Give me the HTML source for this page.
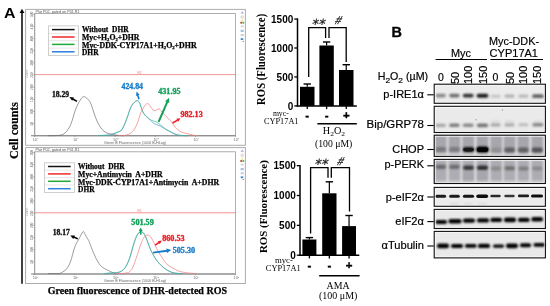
<!DOCTYPE html>
<html><head><meta charset="utf-8"><title>Figure</title>
<style>html,body{margin:0;padding:0;background:#fff;} svg{display:block;filter:blur(0.3px);}</style></head>
<body><svg width="550" height="306" viewBox="0 0 550 306">
<defs>
<filter id="bl" x="-30%" y="-150%" width="160%" height="400%"><feGaussianBlur stdDeviation="0.55"/></filter>
<filter id="bl3" x="-30%" y="-150%" width="160%" height="400%"><feGaussianBlur stdDeviation="0.9"/></filter>
<filter id="bl2" x="-30%" y="-10%" width="160%" height="120%"><feGaussianBlur stdDeviation="1.2"/></filter>
</defs>
<rect width="550" height="306" fill="#fff"/>
<rect x="25.6" y="9.4" width="219.8" height="135.9" fill="#fff" stroke="#acacac" stroke-width="1"/>
<rect x="34.7" y="13.6" width="200.89999999999998" height="122.20000000000002" fill="#fff" stroke="#9a9a9a" stroke-width="0.8"/>
<text x="35.6" y="12.6" font-size="3.4" font-family="'Liberation Sans',Arial,sans-serif" font-weight="normal" fill="#555" text-anchor="start" textLength="44" lengthAdjust="spacingAndGlyphs" >Plot P02, gated on P01.R1</text>
<line x1="33.300000000000004" y1="135.8" x2="34.7" y2="135.8" stroke="#777" stroke-width="0.7" />
<line x1="33.300000000000004" y1="123.65" x2="34.7" y2="123.65" stroke="#777" stroke-width="0.7" />
<text x="33.3" y="123.65" font-size="3.2" font-family="'Liberation Sans',Arial,sans-serif" font-weight="normal" fill="#707070" text-anchor="middle" transform="rotate(-90 33.3 123.65)" >50</text>
<line x1="33.300000000000004" y1="111.50000000000001" x2="34.7" y2="111.50000000000001" stroke="#777" stroke-width="0.7" />
<text x="33.3" y="111.50000000000001" font-size="3.2" font-family="'Liberation Sans',Arial,sans-serif" font-weight="normal" fill="#707070" text-anchor="middle" transform="rotate(-90 33.3 111.50000000000001)" >100</text>
<line x1="33.300000000000004" y1="99.35000000000001" x2="34.7" y2="99.35000000000001" stroke="#777" stroke-width="0.7" />
<text x="33.3" y="99.35000000000001" font-size="3.2" font-family="'Liberation Sans',Arial,sans-serif" font-weight="normal" fill="#707070" text-anchor="middle" transform="rotate(-90 33.3 99.35000000000001)" >150</text>
<line x1="33.300000000000004" y1="87.20000000000002" x2="34.7" y2="87.20000000000002" stroke="#777" stroke-width="0.7" />
<text x="33.3" y="87.20000000000002" font-size="3.2" font-family="'Liberation Sans',Arial,sans-serif" font-weight="normal" fill="#707070" text-anchor="middle" transform="rotate(-90 33.3 87.20000000000002)" >200</text>
<line x1="33.300000000000004" y1="75.05000000000001" x2="34.7" y2="75.05000000000001" stroke="#777" stroke-width="0.7" />
<text x="33.3" y="75.05000000000001" font-size="3.2" font-family="'Liberation Sans',Arial,sans-serif" font-weight="normal" fill="#707070" text-anchor="middle" transform="rotate(-90 33.3 75.05000000000001)" >250</text>
<line x1="33.300000000000004" y1="62.900000000000006" x2="34.7" y2="62.900000000000006" stroke="#777" stroke-width="0.7" />
<text x="33.3" y="62.900000000000006" font-size="3.2" font-family="'Liberation Sans',Arial,sans-serif" font-weight="normal" fill="#707070" text-anchor="middle" transform="rotate(-90 33.3 62.900000000000006)" >300</text>
<line x1="33.300000000000004" y1="50.750000000000014" x2="34.7" y2="50.750000000000014" stroke="#777" stroke-width="0.7" />
<text x="33.3" y="50.750000000000014" font-size="3.2" font-family="'Liberation Sans',Arial,sans-serif" font-weight="normal" fill="#707070" text-anchor="middle" transform="rotate(-90 33.3 50.750000000000014)" >350</text>
<line x1="33.300000000000004" y1="38.60000000000001" x2="34.7" y2="38.60000000000001" stroke="#777" stroke-width="0.7" />
<text x="33.3" y="38.60000000000001" font-size="3.2" font-family="'Liberation Sans',Arial,sans-serif" font-weight="normal" fill="#707070" text-anchor="middle" transform="rotate(-90 33.3 38.60000000000001)" >400</text>
<line x1="33.300000000000004" y1="26.450000000000003" x2="34.7" y2="26.450000000000003" stroke="#777" stroke-width="0.7" />
<text x="33.3" y="26.450000000000003" font-size="3.2" font-family="'Liberation Sans',Arial,sans-serif" font-weight="normal" fill="#707070" text-anchor="middle" transform="rotate(-90 33.3 26.450000000000003)" >450</text>
<line x1="33.300000000000004" y1="14.300000000000011" x2="34.7" y2="14.300000000000011" stroke="#777" stroke-width="0.7" />
<text x="33.3" y="14.300000000000011" font-size="3.2" font-family="'Liberation Sans',Arial,sans-serif" font-weight="normal" fill="#707070" text-anchor="middle" transform="rotate(-90 33.3 14.300000000000011)" >500</text>
<text x="28.2" y="74" font-size="2.8" font-family="'Liberation Sans',Arial,sans-serif" font-weight="normal" fill="#999" text-anchor="middle" transform="rotate(-90 28.2 74)" >Count</text>
<line x1="34.7" y1="135.8" x2="34.7" y2="137.0" stroke="#888" stroke-width="0.6" />
<text x="35.5" y="140.8" font-size="3.8" font-family="'Liberation Sans',Arial,sans-serif" font-weight="normal" fill="#707070" text-anchor="middle" >10<tspan font-size="2.4" dy="-1.4">0</tspan></text>
<line x1="74.88" y1="135.8" x2="74.88" y2="137.0" stroke="#888" stroke-width="0.6" />
<text x="75.67999999999999" y="140.8" font-size="3.8" font-family="'Liberation Sans',Arial,sans-serif" font-weight="normal" fill="#707070" text-anchor="middle" >10<tspan font-size="2.4" dy="-1.4">1</tspan></text>
<line x1="115.06" y1="135.8" x2="115.06" y2="137.0" stroke="#888" stroke-width="0.6" />
<text x="115.86" y="140.8" font-size="3.8" font-family="'Liberation Sans',Arial,sans-serif" font-weight="normal" fill="#707070" text-anchor="middle" >10<tspan font-size="2.4" dy="-1.4">2</tspan></text>
<line x1="155.24" y1="135.8" x2="155.24" y2="137.0" stroke="#888" stroke-width="0.6" />
<text x="156.04000000000002" y="140.8" font-size="3.8" font-family="'Liberation Sans',Arial,sans-serif" font-weight="normal" fill="#707070" text-anchor="middle" >10<tspan font-size="2.4" dy="-1.4">3</tspan></text>
<line x1="195.42000000000002" y1="135.8" x2="195.42000000000002" y2="137.0" stroke="#888" stroke-width="0.6" />
<text x="196.22000000000003" y="140.8" font-size="3.8" font-family="'Liberation Sans',Arial,sans-serif" font-weight="normal" fill="#707070" text-anchor="middle" >10<tspan font-size="2.4" dy="-1.4">4</tspan></text>
<line x1="235.60000000000002" y1="135.8" x2="235.60000000000002" y2="137.0" stroke="#888" stroke-width="0.6" />
<text x="236.40000000000003" y="140.8" font-size="3.8" font-family="'Liberation Sans',Arial,sans-serif" font-weight="normal" fill="#707070" text-anchor="middle" >10<tspan font-size="2.4" dy="-1.4">5</tspan></text>
<text x="135" y="143.8" font-size="3.1" font-family="'Liberation Sans',Arial,sans-serif" font-weight="normal" fill="#666" text-anchor="middle" textLength="62" lengthAdjust="spacingAndGlyphs" >Green B Fluorescence (1006 B-HLog)</text>
<line x1="34.7" y1="74.6" x2="235.6" y2="74.6" stroke="#f07878" stroke-width="0.8" />
<text x="139.5" y="73.6" font-size="3.0" font-family="'Liberation Sans',Arial,sans-serif" font-weight="normal" fill="#f07070" text-anchor="middle" >R2</text>
<path d="M240.6,13.6 L242.2,11.2 L243.8,13.6 Z" fill="#8ea4c4" opacity="0.9"/>
<circle cx="242.2" cy="17.1" r="1.35" fill="#f2f0e6" stroke="#c9c2a8" stroke-width="0.6"/>
<circle cx="242.2" cy="20.8" r="0.8" fill="#e6cf3a"/>
<circle cx="241.2" cy="22.8" r="1.05" fill="#d23a32"/>
<circle cx="243.3" cy="22.8" r="1.05" fill="#46b446"/>
<rect x="240.7" y="25.4" width="3" height="1.8" fill="#d4d4dc"/>
<rect x="240.6" y="29.8" width="3.2" height="2.2" fill="#a6c4e2"/>
<rect x="240.6" y="34.0" width="3.2" height="2.2" fill="#cad2e2"/>
<rect x="240.7" y="38.2" width="2.6" height="1.8" fill="#4a86c6"/>
<circle cx="243.2" cy="41.2" r="0.5" fill="#333"/>
<line x1="31" y1="135.8" x2="235.6" y2="135.8" stroke="#808080" stroke-width="1.1" />
<line x1="34.7" y1="13.6" x2="34.7" y2="135.8" stroke="#9c9c9c" stroke-width="0.8" />
<rect x="48.4" y="25.9" width="30" height="29.6" fill="#fff" stroke="#bbb" stroke-width="0.7"/>
<line x1="48.4" y1="33.3" x2="78.4" y2="33.3" stroke="#ccc" stroke-width="0.5" />
<line x1="48.4" y1="40.7" x2="78.4" y2="40.7" stroke="#ccc" stroke-width="0.5" />
<line x1="48.4" y1="48.1" x2="78.4" y2="48.1" stroke="#ccc" stroke-width="0.5" />
<line x1="52.0" y1="29.599999999999998" x2="74.6" y2="29.599999999999998" stroke="#111" stroke-width="1.5" />
<line x1="52.0" y1="37.0" x2="74.6" y2="37.0" stroke="#ee2a2a" stroke-width="1.5" />
<line x1="52.0" y1="44.4" x2="74.6" y2="44.4" stroke="#20a838" stroke-width="1.5" />
<line x1="52.0" y1="51.8" x2="74.6" y2="51.8" stroke="#2f7fdc" stroke-width="1.5" />
<text x="82.0" y="32.199999999999996" font-size="7.7" font-family="'Liberation Serif','Times New Roman',serif" font-weight="bold" fill="#000" text-anchor="start" textLength="46.6" lengthAdjust="spacingAndGlyphs" stroke="#000" stroke-width="0.25">Without&#160; DHR</text>
<text x="82.0" y="39.849999999999994" font-size="7.7" font-family="'Liberation Serif','Times New Roman',serif" font-weight="bold" fill="#000" text-anchor="start" textLength="57.4" lengthAdjust="spacingAndGlyphs" stroke="#000" stroke-width="0.25">Myc+H<tspan font-size="4.6" dy="1.0">2</tspan><tspan dy="-1.0">O</tspan><tspan font-size="4.6" dy="1.0">2</tspan><tspan dy="-1.0">+DHR</tspan></text>
<text x="82.0" y="48.1" font-size="7.7" font-family="'Liberation Serif','Times New Roman',serif" font-weight="bold" fill="#000" text-anchor="start" textLength="114.6" lengthAdjust="spacingAndGlyphs" stroke="#000" stroke-width="0.25">Myc-DDK-CYP17A1+H<tspan font-size="4.6" dy="1.0">2</tspan><tspan dy="-1.0">O</tspan><tspan font-size="4.6" dy="1.0">2</tspan><tspan dy="-1.0">+DHR</tspan></text>
<text x="82.0" y="55.15" font-size="7.7" font-family="'Liberation Serif','Times New Roman',serif" font-weight="bold" fill="#000" text-anchor="start" textLength="16.5" lengthAdjust="spacingAndGlyphs" stroke="#000" stroke-width="0.25">DHR</text>
<rect x="25.6" y="147.6" width="219.8" height="135.9" fill="#fff" stroke="#acacac" stroke-width="1"/>
<rect x="34.7" y="151.79999999999998" width="200.89999999999998" height="122.20000000000002" fill="#fff" stroke="#9a9a9a" stroke-width="0.8"/>
<text x="35.6" y="150.79999999999998" font-size="3.4" font-family="'Liberation Sans',Arial,sans-serif" font-weight="normal" fill="#555" text-anchor="start" textLength="44" lengthAdjust="spacingAndGlyphs" >Plot P02, gated on P01.R1</text>
<line x1="33.300000000000004" y1="274.0" x2="34.7" y2="274.0" stroke="#777" stroke-width="0.7" />
<line x1="33.300000000000004" y1="261.85" x2="34.7" y2="261.85" stroke="#777" stroke-width="0.7" />
<text x="33.3" y="261.85" font-size="3.2" font-family="'Liberation Sans',Arial,sans-serif" font-weight="normal" fill="#707070" text-anchor="middle" transform="rotate(-90 33.3 261.85)" >50</text>
<line x1="33.300000000000004" y1="249.7" x2="34.7" y2="249.7" stroke="#777" stroke-width="0.7" />
<text x="33.3" y="249.7" font-size="3.2" font-family="'Liberation Sans',Arial,sans-serif" font-weight="normal" fill="#707070" text-anchor="middle" transform="rotate(-90 33.3 249.7)" >100</text>
<line x1="33.300000000000004" y1="237.55" x2="34.7" y2="237.55" stroke="#777" stroke-width="0.7" />
<text x="33.3" y="237.55" font-size="3.2" font-family="'Liberation Sans',Arial,sans-serif" font-weight="normal" fill="#707070" text-anchor="middle" transform="rotate(-90 33.3 237.55)" >150</text>
<line x1="33.300000000000004" y1="225.4" x2="34.7" y2="225.4" stroke="#777" stroke-width="0.7" />
<text x="33.3" y="225.4" font-size="3.2" font-family="'Liberation Sans',Arial,sans-serif" font-weight="normal" fill="#707070" text-anchor="middle" transform="rotate(-90 33.3 225.4)" >200</text>
<line x1="33.300000000000004" y1="213.25" x2="34.7" y2="213.25" stroke="#777" stroke-width="0.7" />
<text x="33.3" y="213.25" font-size="3.2" font-family="'Liberation Sans',Arial,sans-serif" font-weight="normal" fill="#707070" text-anchor="middle" transform="rotate(-90 33.3 213.25)" >250</text>
<line x1="33.300000000000004" y1="201.1" x2="34.7" y2="201.1" stroke="#777" stroke-width="0.7" />
<text x="33.3" y="201.1" font-size="3.2" font-family="'Liberation Sans',Arial,sans-serif" font-weight="normal" fill="#707070" text-anchor="middle" transform="rotate(-90 33.3 201.1)" >300</text>
<line x1="33.300000000000004" y1="188.95" x2="34.7" y2="188.95" stroke="#777" stroke-width="0.7" />
<text x="33.3" y="188.95" font-size="3.2" font-family="'Liberation Sans',Arial,sans-serif" font-weight="normal" fill="#707070" text-anchor="middle" transform="rotate(-90 33.3 188.95)" >350</text>
<line x1="33.300000000000004" y1="176.8" x2="34.7" y2="176.8" stroke="#777" stroke-width="0.7" />
<text x="33.3" y="176.8" font-size="3.2" font-family="'Liberation Sans',Arial,sans-serif" font-weight="normal" fill="#707070" text-anchor="middle" transform="rotate(-90 33.3 176.8)" >400</text>
<line x1="33.300000000000004" y1="164.64999999999998" x2="34.7" y2="164.64999999999998" stroke="#777" stroke-width="0.7" />
<text x="33.3" y="164.64999999999998" font-size="3.2" font-family="'Liberation Sans',Arial,sans-serif" font-weight="normal" fill="#707070" text-anchor="middle" transform="rotate(-90 33.3 164.64999999999998)" >450</text>
<line x1="33.300000000000004" y1="152.5" x2="34.7" y2="152.5" stroke="#777" stroke-width="0.7" />
<text x="33.3" y="152.5" font-size="3.2" font-family="'Liberation Sans',Arial,sans-serif" font-weight="normal" fill="#707070" text-anchor="middle" transform="rotate(-90 33.3 152.5)" >500</text>
<text x="28.2" y="212.2" font-size="2.8" font-family="'Liberation Sans',Arial,sans-serif" font-weight="normal" fill="#999" text-anchor="middle" transform="rotate(-90 28.2 212.2)" >Count</text>
<line x1="34.7" y1="274.0" x2="34.7" y2="275.2" stroke="#888" stroke-width="0.6" />
<text x="35.5" y="279.0" font-size="3.8" font-family="'Liberation Sans',Arial,sans-serif" font-weight="normal" fill="#707070" text-anchor="middle" >10<tspan font-size="2.4" dy="-1.4">0</tspan></text>
<line x1="74.88" y1="274.0" x2="74.88" y2="275.2" stroke="#888" stroke-width="0.6" />
<text x="75.67999999999999" y="279.0" font-size="3.8" font-family="'Liberation Sans',Arial,sans-serif" font-weight="normal" fill="#707070" text-anchor="middle" >10<tspan font-size="2.4" dy="-1.4">1</tspan></text>
<line x1="115.06" y1="274.0" x2="115.06" y2="275.2" stroke="#888" stroke-width="0.6" />
<text x="115.86" y="279.0" font-size="3.8" font-family="'Liberation Sans',Arial,sans-serif" font-weight="normal" fill="#707070" text-anchor="middle" >10<tspan font-size="2.4" dy="-1.4">2</tspan></text>
<line x1="155.24" y1="274.0" x2="155.24" y2="275.2" stroke="#888" stroke-width="0.6" />
<text x="156.04000000000002" y="279.0" font-size="3.8" font-family="'Liberation Sans',Arial,sans-serif" font-weight="normal" fill="#707070" text-anchor="middle" >10<tspan font-size="2.4" dy="-1.4">3</tspan></text>
<line x1="195.42000000000002" y1="274.0" x2="195.42000000000002" y2="275.2" stroke="#888" stroke-width="0.6" />
<text x="196.22000000000003" y="279.0" font-size="3.8" font-family="'Liberation Sans',Arial,sans-serif" font-weight="normal" fill="#707070" text-anchor="middle" >10<tspan font-size="2.4" dy="-1.4">4</tspan></text>
<line x1="235.60000000000002" y1="274.0" x2="235.60000000000002" y2="275.2" stroke="#888" stroke-width="0.6" />
<text x="236.40000000000003" y="279.0" font-size="3.8" font-family="'Liberation Sans',Arial,sans-serif" font-weight="normal" fill="#707070" text-anchor="middle" >10<tspan font-size="2.4" dy="-1.4">5</tspan></text>
<text x="135" y="282.0" font-size="3.1" font-family="'Liberation Sans',Arial,sans-serif" font-weight="normal" fill="#666" text-anchor="middle" textLength="62" lengthAdjust="spacingAndGlyphs" >Green B Fluorescence (1006 B-HLog)</text>
<line x1="34.7" y1="212.79999999999998" x2="235.6" y2="212.79999999999998" stroke="#f07878" stroke-width="0.8" />
<text x="139.5" y="211.79999999999998" font-size="3.0" font-family="'Liberation Sans',Arial,sans-serif" font-weight="normal" fill="#f07070" text-anchor="middle" >R2</text>
<path d="M240.6,151.79999999999998 L242.2,149.39999999999998 L243.8,151.79999999999998 Z" fill="#8ea4c4" opacity="0.9"/>
<circle cx="242.2" cy="155.29999999999998" r="1.35" fill="#f2f0e6" stroke="#c9c2a8" stroke-width="0.6"/>
<circle cx="242.2" cy="159.0" r="0.8" fill="#e6cf3a"/>
<circle cx="241.2" cy="161.0" r="1.05" fill="#d23a32"/>
<circle cx="243.3" cy="161.0" r="1.05" fill="#46b446"/>
<rect x="240.7" y="163.6" width="3" height="1.8" fill="#d4d4dc"/>
<rect x="240.6" y="168.0" width="3.2" height="2.2" fill="#a6c4e2"/>
<rect x="240.6" y="172.2" width="3.2" height="2.2" fill="#cad2e2"/>
<rect x="240.7" y="176.39999999999998" width="2.6" height="1.8" fill="#4a86c6"/>
<circle cx="243.2" cy="179.39999999999998" r="0.5" fill="#333"/>
<line x1="31" y1="274.0" x2="235.6" y2="274.0" stroke="#808080" stroke-width="1.1" />
<line x1="34.7" y1="151.79999999999998" x2="34.7" y2="274.0" stroke="#9c9c9c" stroke-width="0.8" />
<rect x="44.5" y="162.79999999999998" width="30" height="29.6" fill="#fff" stroke="#bbb" stroke-width="0.7"/>
<line x1="44.5" y1="170.2" x2="74.5" y2="170.2" stroke="#ccc" stroke-width="0.5" />
<line x1="44.5" y1="177.6" x2="74.5" y2="177.6" stroke="#ccc" stroke-width="0.5" />
<line x1="44.5" y1="185.0" x2="74.5" y2="185.0" stroke="#ccc" stroke-width="0.5" />
<line x1="48.1" y1="166.49999999999997" x2="70.7" y2="166.49999999999997" stroke="#111" stroke-width="1.5" />
<line x1="48.1" y1="173.89999999999998" x2="70.7" y2="173.89999999999998" stroke="#ee2a2a" stroke-width="1.5" />
<line x1="48.1" y1="181.29999999999998" x2="70.7" y2="181.29999999999998" stroke="#20a838" stroke-width="1.5" />
<line x1="48.1" y1="188.7" x2="70.7" y2="188.7" stroke="#2f7fdc" stroke-width="1.5" />
<text x="78.1" y="169.1" font-size="7.7" font-family="'Liberation Serif','Times New Roman',serif" font-weight="bold" fill="#000" text-anchor="start" textLength="46.6" lengthAdjust="spacingAndGlyphs" stroke="#000" stroke-width="0.25">Without&#160; DHR</text>
<text x="78.1" y="176.75" font-size="7.7" font-family="'Liberation Serif','Times New Roman',serif" font-weight="bold" fill="#000" text-anchor="start" textLength="84.4" lengthAdjust="spacingAndGlyphs" stroke="#000" stroke-width="0.25">Myc+Antimycin&#160; A+DHR</text>
<text x="78.1" y="185.0" font-size="7.7" font-family="'Liberation Serif','Times New Roman',serif" font-weight="bold" fill="#000" text-anchor="start" textLength="141" lengthAdjust="spacingAndGlyphs" stroke="#000" stroke-width="0.25">Myc-DDK-CYP17A1+Antimycin&#160; A+DHR</text>
<text x="78.1" y="192.05" font-size="7.7" font-family="'Liberation Serif','Times New Roman',serif" font-weight="bold" fill="#000" text-anchor="start" textLength="16.5" lengthAdjust="spacingAndGlyphs" stroke="#000" stroke-width="0.25">DHR</text>
<path d="M48.00,135.70 C49.33,135.68 53.83,135.72 56.00,135.60 C58.17,135.48 59.50,135.43 61.00,135.00 C62.50,134.57 63.67,134.17 65.00,133.00 C66.33,131.83 67.83,130.00 69.00,128.00 C70.17,126.00 71.00,123.83 72.00,121.00 C73.00,118.17 74.00,113.83 75.00,111.00 C76.00,108.17 77.00,106.00 78.00,104.00 C79.00,102.00 80.10,100.23 81.00,99.00 C81.90,97.77 82.57,96.83 83.40,96.60 C84.23,96.37 85.13,97.03 86.00,97.60 C86.87,98.17 87.77,98.93 88.60,100.00 C89.43,101.07 90.10,101.83 91.00,104.00 C91.90,106.17 93.00,110.17 94.00,113.00 C95.00,115.83 95.83,118.50 97.00,121.00 C98.17,123.50 99.67,126.17 101.00,128.00 C102.33,129.83 103.67,131.07 105.00,132.00 C106.33,132.93 107.83,133.23 109.00,133.60 C110.17,133.97 111.00,134.00 112.00,134.20 C113.00,134.40 113.83,134.58 115.00,134.80 C116.17,135.02 117.50,135.35 119.00,135.50 C120.50,135.65 123.17,135.67 124.00,135.70" fill="none" stroke="#666" stroke-width="0.65" stroke-linejoin="round" opacity="1"/>
<path d="M98.00,135.60 C99.33,135.55 103.85,135.43 106.00,135.30 C108.15,135.17 109.60,135.07 110.90,134.80 C112.20,134.53 112.58,134.17 113.80,133.70 C115.02,133.23 116.97,132.52 118.20,132.00 C119.43,131.48 120.33,131.43 121.20,130.60 C122.07,129.77 122.67,128.43 123.40,127.00 C124.13,125.57 124.87,123.80 125.60,122.00 C126.33,120.20 127.07,118.27 127.80,116.20 C128.53,114.13 129.27,111.47 130.00,109.60 C130.73,107.73 131.35,106.28 132.20,105.00 C133.05,103.72 134.20,102.60 135.10,101.90 C136.00,101.20 136.82,100.55 137.60,100.80 C138.38,101.05 139.07,101.87 139.80,103.40 C140.53,104.93 141.30,108.23 142.00,110.00 C142.70,111.77 143.25,112.87 144.00,114.00 C144.75,115.13 145.42,115.73 146.50,116.80 C147.58,117.87 149.42,119.40 150.50,120.40 C151.58,121.40 151.92,122.07 153.00,122.80 C154.08,123.53 155.67,124.18 157.00,124.80 C158.33,125.42 159.50,125.70 161.00,126.50 C162.50,127.30 164.27,128.62 166.00,129.60 C167.73,130.58 169.63,131.55 171.40,132.40 C173.17,133.25 174.87,134.18 176.60,134.70 C178.33,135.22 179.90,135.33 181.80,135.50 C183.70,135.67 186.97,135.67 188.00,135.70" fill="none" stroke="#5a9ce0" stroke-width="0.7" stroke-linejoin="round" opacity="1"/>
<path d="M98.00,135.60 C99.33,135.53 103.85,135.35 106.00,135.20 C108.15,135.05 109.60,134.98 110.90,134.70 C112.20,134.42 112.58,133.98 113.80,133.50 C115.02,133.02 116.97,132.33 118.20,131.80 C119.43,131.27 120.33,131.17 121.20,130.30 C122.07,129.43 122.67,128.07 123.40,126.60 C124.13,125.13 124.87,123.33 125.60,121.50 C126.33,119.67 127.07,117.68 127.80,115.60 C128.53,113.52 129.27,110.83 130.00,109.00 C130.73,107.17 131.35,105.83 132.20,104.60 C133.05,103.37 134.20,102.27 135.10,101.60 C136.00,100.93 136.82,100.33 137.60,100.60 C138.38,100.87 139.07,101.67 139.80,103.20 C140.53,104.73 141.30,108.05 142.00,109.80 C142.70,111.55 143.25,112.62 144.00,113.70 C144.75,114.78 145.42,115.32 146.50,116.30 C147.58,117.28 149.42,118.83 150.50,119.60 C151.58,120.37 151.92,120.47 153.00,120.90 C154.08,121.33 155.67,121.45 157.00,122.20 C158.33,122.95 159.50,124.23 161.00,125.40 C162.50,126.57 164.27,128.07 166.00,129.20 C167.73,130.33 169.63,131.30 171.40,132.20 C173.17,133.10 174.87,134.05 176.60,134.60 C178.33,135.15 179.90,135.32 181.80,135.50 C183.70,135.68 186.97,135.67 188.00,135.70" fill="none" stroke="#3cb080" stroke-width="0.7" stroke-linejoin="round" opacity="0.95"/>
<path d="M118.00,135.70 C119.00,135.65 122.25,135.62 124.00,135.40 C125.75,135.18 127.13,135.00 128.50,134.40 C129.87,133.80 131.10,132.87 132.20,131.80 C133.30,130.73 134.13,129.72 135.10,128.00 C136.07,126.28 137.13,123.83 138.00,121.50 C138.87,119.17 139.60,115.83 140.30,114.00 C141.00,112.17 141.48,111.87 142.20,110.50 C142.92,109.13 143.67,106.97 144.60,105.80 C145.53,104.63 146.82,103.38 147.80,103.50 C148.78,103.62 149.63,105.42 150.50,106.50 C151.37,107.58 152.25,109.30 153.00,110.00 C153.75,110.70 154.33,110.78 155.00,110.70 C155.67,110.62 156.33,109.83 157.00,109.50 C157.67,109.17 158.33,108.48 159.00,108.70 C159.67,108.92 160.25,109.97 161.00,110.80 C161.75,111.63 162.67,112.78 163.50,113.70 C164.33,114.62 165.12,115.42 166.00,116.30 C166.88,117.18 167.90,118.13 168.80,119.00 C169.70,119.87 170.65,120.53 171.40,121.50 C172.15,122.47 172.65,123.82 173.30,124.80 C173.95,125.78 174.53,126.53 175.30,127.40 C176.07,128.27 176.82,129.20 177.90,130.00 C178.98,130.80 180.48,131.65 181.80,132.20 C183.12,132.75 184.48,132.95 185.80,133.30 C187.12,133.65 188.40,133.97 189.70,134.30 C191.00,134.63 192.22,135.07 193.60,135.30 C194.98,135.53 197.27,135.63 198.00,135.70" fill="none" stroke="#f27a7a" stroke-width="0.7" stroke-linejoin="round" opacity="1"/>
<text x="51.9" y="97.0" font-size="7.4" font-family="'Liberation Serif','Times New Roman',serif" font-weight="bold" fill="#111" text-anchor="start" textLength="17.3" lengthAdjust="spacingAndGlyphs" stroke="#111" stroke-width="0.32" paint-order="stroke">18.29</text>
<line x1="77.0" y1="101.3" x2="72.81344198821314" y2="98.98637583559147" stroke="#000" stroke-width="1.5" />
<polygon points="69.40,97.10 74.00,97.47 72.16,100.79" fill="#000"/>
<text x="121.5" y="88.5" font-size="7.3" font-family="'Liberation Serif','Times New Roman',serif" font-weight="bold" fill="#1a7cc8" text-anchor="start" textLength="21.5" lengthAdjust="spacingAndGlyphs" stroke="#1a7cc8" stroke-width="0.32" paint-order="stroke">424.84</text>
<line x1="139.0" y1="99.2" x2="137.70100506107113" y2="95.03239123760319" stroke="#1a7cc8" stroke-width="1.6" />
<polygon points="136.60,91.50 139.60,94.75 135.98,95.88" fill="#1a7cc8"/>
<text x="158.3" y="93.8" font-size="7.3" font-family="'Liberation Serif','Times New Roman',serif" font-weight="bold" fill="#10a058" text-anchor="start" textLength="22.2" lengthAdjust="spacingAndGlyphs" stroke="#10a058" stroke-width="0.32" paint-order="stroke">431.95</text>
<line x1="158.6" y1="121.8" x2="167.3026033209478" y2="101.82545333001504" stroke="#10a058" stroke-width="2.0" />
<polygon points="169.10,97.70 169.20,102.98 165.17,101.22" fill="#10a058"/>
<text x="180.5" y="117.3" font-size="7.3" font-family="'Liberation Serif','Times New Roman',serif" font-weight="bold" fill="#ee1c24" text-anchor="start" textLength="22.2" lengthAdjust="spacingAndGlyphs" stroke="#ee1c24" stroke-width="0.32" paint-order="stroke">982.13</text>
<line x1="172.6" y1="123.0" x2="177.5088437354908" y2="120.01741140122078" stroke="#ee1c24" stroke-width="1.5" />
<polygon points="180.50,118.20 178.19,121.71 176.32,118.63" fill="#ee1c24"/>
<path d="M48.00,273.60 C49.33,273.58 54.05,273.53 56.00,273.50 C57.95,273.47 58.57,273.67 59.70,273.40 C60.83,273.13 61.75,272.53 62.80,271.90 C63.85,271.27 64.95,270.77 66.00,269.60 C67.05,268.43 68.18,266.73 69.10,264.90 C70.02,263.07 70.72,261.08 71.50,258.60 C72.28,256.12 73.02,252.48 73.80,250.00 C74.58,247.52 75.42,245.40 76.20,243.70 C76.98,242.00 77.72,241.23 78.50,239.80 C79.28,238.37 80.12,236.48 80.90,235.10 C81.68,233.72 82.50,231.63 83.20,231.50 C83.90,231.37 84.43,233.18 85.10,234.30 C85.77,235.42 86.60,237.17 87.20,238.20 C87.80,239.23 88.18,239.45 88.70,240.50 C89.22,241.55 89.65,242.80 90.30,244.50 C90.95,246.20 91.82,248.75 92.60,250.70 C93.38,252.65 94.20,254.50 95.00,256.20 C95.80,257.90 96.48,259.33 97.40,260.90 C98.32,262.47 99.33,264.33 100.50,265.60 C101.67,266.87 103.10,267.70 104.40,268.50 C105.70,269.30 106.98,269.75 108.30,270.40 C109.62,271.05 111.18,271.93 112.30,272.40 C113.42,272.87 114.05,273.00 115.00,273.20 C115.95,273.40 117.50,273.53 118.00,273.60" fill="none" stroke="#666" stroke-width="0.65" stroke-linejoin="round" opacity="1"/>
<path d="M104.00,273.60 C105.33,273.50 109.88,273.13 112.00,273.00 C114.12,272.87 115.13,273.07 116.70,272.80 C118.27,272.53 119.97,272.25 121.40,271.40 C122.83,270.55 124.12,269.33 125.30,267.70 C126.48,266.07 127.58,263.75 128.50,261.60 C129.42,259.45 130.02,257.35 130.80,254.80 C131.58,252.25 132.42,248.90 133.20,246.30 C133.98,243.70 134.72,241.22 135.50,239.20 C136.28,237.18 137.12,235.40 137.90,234.20 C138.68,233.00 139.55,232.38 140.20,232.00 C140.85,231.62 141.27,231.78 141.80,231.90 C142.33,232.02 142.75,231.92 143.40,232.70 C144.05,233.48 144.92,234.90 145.70,236.60 C146.48,238.30 147.32,240.80 148.10,242.90 C148.88,245.00 149.62,247.37 150.40,249.20 C151.18,251.03 151.88,252.20 152.80,253.90 C153.72,255.60 154.85,257.83 155.90,259.40 C156.95,260.97 157.92,262.00 159.10,263.30 C160.28,264.60 161.70,266.08 163.00,267.20 C164.30,268.32 165.40,269.13 166.90,270.00 C168.40,270.87 170.32,271.85 172.00,272.40 C173.68,272.95 175.17,273.10 177.00,273.30 C178.83,273.50 182.00,273.55 183.00,273.60" fill="none" stroke="#5a9ce0" stroke-width="0.7" stroke-linejoin="round" opacity="1"/>
<path d="M104.00,273.60 C105.33,273.48 109.88,273.07 112.00,272.90 C114.12,272.73 115.13,272.90 116.70,272.60 C118.27,272.30 119.97,272.00 121.40,271.10 C122.83,270.20 124.12,268.90 125.30,267.20 C126.48,265.50 127.58,263.12 128.50,260.90 C129.42,258.68 130.02,256.50 130.80,253.90 C131.58,251.30 132.42,247.92 133.20,245.30 C133.98,242.68 134.72,240.17 135.50,238.20 C136.28,236.23 137.12,234.62 137.90,233.50 C138.68,232.38 139.42,231.70 140.20,231.50 C140.98,231.30 141.80,231.62 142.60,232.30 C143.40,232.98 144.20,234.05 145.00,235.60 C145.80,237.15 146.60,239.53 147.40,241.60 C148.20,243.67 149.00,246.12 149.80,248.00 C150.60,249.88 151.28,251.17 152.20,252.90 C153.12,254.63 154.25,256.80 155.30,258.40 C156.35,260.00 157.32,261.13 158.50,262.50 C159.68,263.87 161.10,265.42 162.40,266.60 C163.70,267.78 164.80,268.67 166.30,269.60 C167.80,270.53 169.78,271.58 171.40,272.20 C173.02,272.82 174.23,273.07 176.00,273.30 C177.77,273.53 181.00,273.55 182.00,273.60" fill="none" stroke="#3cb080" stroke-width="0.7" stroke-linejoin="round" opacity="0.95"/>
<path d="M116.00,273.60 C116.90,273.58 119.45,273.65 121.40,273.50 C123.35,273.35 126.00,273.35 127.70,272.70 C129.40,272.05 130.43,271.30 131.60,269.60 C132.77,267.90 133.65,265.25 134.70,262.50 C135.75,259.75 136.85,256.23 137.90,253.10 C138.95,249.97 140.08,246.18 141.00,243.70 C141.92,241.22 142.62,239.57 143.40,238.20 C144.18,236.83 144.92,236.02 145.70,235.50 C146.48,234.98 147.32,234.92 148.10,235.10 C148.88,235.28 149.62,235.70 150.40,236.60 C151.18,237.50 152.02,239.05 152.80,240.50 C153.58,241.95 154.18,243.47 155.10,245.30 C156.02,247.13 157.12,249.42 158.30,251.50 C159.48,253.58 160.90,255.83 162.20,257.80 C163.50,259.77 164.80,261.87 166.10,263.30 C167.40,264.73 168.68,265.48 170.00,266.40 C171.32,267.32 172.67,268.07 174.00,268.80 C175.33,269.53 176.33,270.20 178.00,270.80 C179.67,271.40 182.00,272.00 184.00,272.40 C186.00,272.80 188.00,273.00 190.00,273.20 C192.00,273.40 195.00,273.53 196.00,273.60" fill="none" stroke="#f27a7a" stroke-width="0.7" stroke-linejoin="round" opacity="1"/>
<text x="52.7" y="234.8" font-size="7.3" font-family="'Liberation Serif','Times New Roman',serif" font-weight="bold" fill="#111" text-anchor="start" textLength="17.2" lengthAdjust="spacingAndGlyphs" stroke="#111" stroke-width="0.32" paint-order="stroke">18.17</text>
<line x1="77.8" y1="238.9" x2="73.83411424598152" y2="237.04925331479137" stroke="#000" stroke-width="1.5" />
<polygon points="70.30,235.40 74.91,235.45 73.30,238.90" fill="#000"/>
<text x="131.3" y="225.1" font-size="7.3" font-family="'Liberation Serif','Times New Roman',serif" font-weight="bold" fill="#10a058" text-anchor="start" textLength="22.5" lengthAdjust="spacingAndGlyphs" stroke="#10a058" stroke-width="0.32" paint-order="stroke">501.59</text>
<line x1="140.7" y1="234.7" x2="140.7" y2="230.7" stroke="#10a058" stroke-width="1.6" />
<polygon points="140.70,227.40 142.60,231.00 138.80,231.00" fill="#10a058"/>
<text x="162.2" y="240.6" font-size="7.3" font-family="'Liberation Serif','Times New Roman',serif" font-weight="bold" fill="#ee1c24" text-anchor="start" textLength="22.5" lengthAdjust="spacingAndGlyphs" stroke="#ee1c24" stroke-width="0.32" paint-order="stroke">860.53</text>
<line x1="155.2" y1="245.2" x2="159.09268604965905" y2="242.48691578357096" stroke="#ee1c24" stroke-width="1.5" />
<polygon points="161.80,240.60 159.88,244.14 157.82,241.18" fill="#ee1c24"/>
<text x="172.8" y="253.2" font-size="7.3" font-family="'Liberation Serif','Times New Roman',serif" font-weight="bold" fill="#1a7cc8" text-anchor="start" textLength="22.2" lengthAdjust="spacingAndGlyphs" stroke="#1a7cc8" stroke-width="0.32" paint-order="stroke">505.30</text>
<line x1="153.1" y1="252.6" x2="167.040002060225" y2="250.6851645521669" stroke="#1a7cc8" stroke-width="1.9" />
<polygon points="171.30,250.10 167.04,252.91 166.44,248.55" fill="#1a7cc8"/>
<text x="3.9" y="17.9" font-size="15" font-family="'Liberation Sans',Arial,sans-serif" font-weight="bold" fill="#000" text-anchor="start" textLength="11.5" lengthAdjust="spacingAndGlyphs" >A</text>
<line x1="22" y1="11.5" x2="22" y2="283.8" stroke="#000" stroke-width="1.5" />
<polygon points="22,8.8 24.4,13 19.6,13" fill="#000"/>
<text x="18.3" y="130.5" font-size="12" font-family="'Liberation Serif','Times New Roman',serif" font-weight="bold" fill="#000" text-anchor="middle" textLength="57" lengthAdjust="spacingAndGlyphs" transform="rotate(-90 18.3 130.5)" stroke="#000" stroke-width="0.2">Cell counts</text>
<text x="47.8" y="293.6" font-size="10.2" font-family="'Liberation Serif','Times New Roman',serif" font-weight="bold" fill="#000" text-anchor="start" textLength="179.2" lengthAdjust="spacingAndGlyphs" stroke="#000" stroke-width="0.25">Green fluorescence of DHR-detected ROS</text>
<line x1="297.5" y1="18.350000000000012" x2="297.5" y2="106.60000000000001" stroke="#000" stroke-width="1.5" />
<line x1="294.3" y1="105.9" x2="297.5" y2="105.9" stroke="#000" stroke-width="1.3" />
<text x="293.3" y="109.5" font-size="10" font-family="'Liberation Sans',Arial,sans-serif" font-weight="bold" fill="#000" text-anchor="end" >0</text>
<line x1="294.3" y1="76.95" x2="297.5" y2="76.95" stroke="#000" stroke-width="1.3" />
<text x="293.3" y="80.55" font-size="10" font-family="'Liberation Sans',Arial,sans-serif" font-weight="bold" fill="#000" text-anchor="end" >500</text>
<line x1="294.3" y1="48.00000000000001" x2="297.5" y2="48.00000000000001" stroke="#000" stroke-width="1.3" />
<text x="293.3" y="51.60000000000001" font-size="10" font-family="'Liberation Sans',Arial,sans-serif" font-weight="bold" fill="#000" text-anchor="end" >1000</text>
<line x1="294.3" y1="19.05000000000001" x2="297.5" y2="19.05000000000001" stroke="#000" stroke-width="1.3" />
<text x="293.3" y="22.650000000000013" font-size="10" font-family="'Liberation Sans',Arial,sans-serif" font-weight="bold" fill="#000" text-anchor="end" >1500</text>
<line x1="296.8" y1="105.9" x2="356.8" y2="105.9" stroke="#000" stroke-width="1.5" />
<rect x="300" y="86.8" width="14.5" height="19.10000000000001" fill="#000"/>
<line x1="307.25" y1="84" x2="307.25" y2="86.8" stroke="#000" stroke-width="1.2" />
<line x1="303.55" y1="84" x2="310.95" y2="84" stroke="#000" stroke-width="1.4" />
<line x1="307.25" y1="105.9" x2="307.25" y2="109.10000000000001" stroke="#000" stroke-width="1.3" />
<rect x="319.4" y="45.49999999999999" width="14.400000000000034" height="60.40000000000001" fill="#000"/>
<line x1="326.6" y1="42" x2="326.6" y2="45.49999999999999" stroke="#000" stroke-width="1.2" />
<line x1="322.90000000000003" y1="42" x2="330.3" y2="42" stroke="#000" stroke-width="1.4" />
<line x1="326.6" y1="105.9" x2="326.6" y2="109.10000000000001" stroke="#000" stroke-width="1.3" />
<rect x="339" y="70.0" width="14.5" height="35.900000000000006" fill="#000"/>
<line x1="346.25" y1="64.7" x2="346.25" y2="70.0" stroke="#000" stroke-width="1.2" />
<line x1="342.55" y1="64.7" x2="349.95" y2="64.7" stroke="#000" stroke-width="1.4" />
<line x1="346.25" y1="105.9" x2="346.25" y2="109.10000000000001" stroke="#000" stroke-width="1.3" />
<polyline points="308.7,77 308.7,27.6 325.6,27.6 325.6,38" fill="none" stroke="#000" stroke-width="1.3"/>
<polyline points="329,38 329,27.6 346.2,27.6 346.2,62" fill="none" stroke="#000" stroke-width="1.3"/>
<text x="307.25" y="118.6" font-size="11.5" font-family="'Liberation Sans',Arial,sans-serif" font-weight="bold" fill="#000" text-anchor="middle" stroke="#000" stroke-width="0.35">-</text>
<text x="326.6" y="118.6" font-size="11.5" font-family="'Liberation Sans',Arial,sans-serif" font-weight="bold" fill="#000" text-anchor="middle" stroke="#000" stroke-width="0.35">-</text>
<text x="346.25" y="118.6" font-size="11.5" font-family="'Liberation Sans',Arial,sans-serif" font-weight="bold" fill="#000" text-anchor="middle" stroke="#000" stroke-width="0.35">+</text>
<text x="264.8" y="59.35" font-size="11.6" font-family="'Liberation Serif','Times New Roman',serif" font-weight="bold" fill="#000" text-anchor="middle" textLength="91.1" lengthAdjust="spacingAndGlyphs" transform="rotate(-90 264.8 59.35)" >ROS (Fluorescence)</text>
<g transform="translate(310.8 29.0) skewX(-14)">
<text x="0" y="0" font-size="14" font-family="'DejaVu Sans',sans-serif" font-weight="normal" fill="#222" text-anchor="start" textLength="13.2" lengthAdjust="spacingAndGlyphs" stroke="#222" stroke-width="0.25">**</text>
</g>
<g transform="translate(334.2 24.4) skewX(-22)">
<text x="0" y="0" font-size="11.2" font-family="'Liberation Sans',Arial,sans-serif" font-weight="normal" fill="#222" text-anchor="start" textLength="5.8" lengthAdjust="spacingAndGlyphs" stroke="#222" stroke-width="0.3">#</text>
</g>
<text x="288.7" y="115.6" font-size="8.5" font-family="'Liberation Serif','Times New Roman',serif" font-weight="normal" fill="#000" text-anchor="end" textLength="15.8" lengthAdjust="spacingAndGlyphs" >myc-</text>
<text x="264.0" y="124.4" font-size="8.4" font-family="'Liberation Serif','Times New Roman',serif" font-weight="normal" fill="#000" text-anchor="start" textLength="34.5" lengthAdjust="spacingAndGlyphs" >CYP17A1</text>
<line x1="317.4" y1="123.7" x2="356.8" y2="123.7" stroke="#000" stroke-width="1.4" />
<text x="322.8" y="134" font-size="9.6" font-family="'Liberation Serif','Times New Roman',serif" font-weight="normal" fill="#000" text-anchor="start" textLength="22.2" lengthAdjust="spacingAndGlyphs" >H<tspan font-size="7" dy="2">2</tspan><tspan dy="-2">O</tspan><tspan font-size="7" dy="2">2</tspan></text>
<text x="315" y="146.6" font-size="9.7" font-family="'Liberation Serif','Times New Roman',serif" font-weight="normal" fill="#000" text-anchor="start" textLength="37.3" lengthAdjust="spacingAndGlyphs" >(100 μM)</text>
<line x1="300" y1="164.95" x2="300" y2="255.89999999999998" stroke="#000" stroke-width="1.5" />
<line x1="296.8" y1="255.2" x2="300" y2="255.2" stroke="#000" stroke-width="1.3" />
<text x="295.8" y="258.8" font-size="10" font-family="'Liberation Sans',Arial,sans-serif" font-weight="bold" fill="#000" text-anchor="end" >0</text>
<line x1="296.8" y1="225.35" x2="300" y2="225.35" stroke="#000" stroke-width="1.3" />
<text x="295.8" y="228.95" font-size="10" font-family="'Liberation Sans',Arial,sans-serif" font-weight="bold" fill="#000" text-anchor="end" >500</text>
<line x1="296.8" y1="195.5" x2="300" y2="195.5" stroke="#000" stroke-width="1.3" />
<text x="295.8" y="199.1" font-size="10" font-family="'Liberation Sans',Arial,sans-serif" font-weight="bold" fill="#000" text-anchor="end" >1000</text>
<line x1="296.8" y1="165.64999999999998" x2="300" y2="165.64999999999998" stroke="#000" stroke-width="1.3" />
<text x="295.8" y="169.24999999999997" font-size="10" font-family="'Liberation Sans',Arial,sans-serif" font-weight="bold" fill="#000" text-anchor="end" >1500</text>
<line x1="299.3" y1="255.2" x2="359.3" y2="255.2" stroke="#000" stroke-width="1.5" />
<rect x="302.4" y="239.5" width="14.0" height="15.699999999999989" fill="#000"/>
<line x1="309.4" y1="237.6" x2="309.4" y2="239.5" stroke="#000" stroke-width="1.2" />
<line x1="305.7" y1="237.6" x2="313.09999999999997" y2="237.6" stroke="#000" stroke-width="1.4" />
<line x1="309.4" y1="255.2" x2="309.4" y2="258.4" stroke="#000" stroke-width="1.3" />
<rect x="322.2" y="193.3" width="14.300000000000011" height="61.89999999999998" fill="#000"/>
<line x1="329.35" y1="181.8" x2="329.35" y2="193.3" stroke="#000" stroke-width="1.2" />
<line x1="325.65000000000003" y1="181.8" x2="333.05" y2="181.8" stroke="#000" stroke-width="1.4" />
<line x1="329.35" y1="255.2" x2="329.35" y2="258.4" stroke="#000" stroke-width="1.3" />
<rect x="342.1" y="226.1" width="13.899999999999977" height="29.099999999999994" fill="#000"/>
<line x1="349.05" y1="215.5" x2="349.05" y2="226.1" stroke="#000" stroke-width="1.2" />
<line x1="345.35" y1="215.5" x2="352.75" y2="215.5" stroke="#000" stroke-width="1.4" />
<line x1="349.05" y1="255.2" x2="349.05" y2="258.4" stroke="#000" stroke-width="1.3" />
<polyline points="310.6,233.5 310.6,167.6 328,167.6 328,177.7" fill="none" stroke="#000" stroke-width="1.3"/>
<polyline points="331.3,177.7 331.3,167.6 349.5,167.6 349.5,211.4" fill="none" stroke="#000" stroke-width="1.3"/>
<text x="309.4" y="268.6" font-size="11.5" font-family="'Liberation Sans',Arial,sans-serif" font-weight="bold" fill="#000" text-anchor="middle" stroke="#000" stroke-width="0.35">-</text>
<text x="329.35" y="268.6" font-size="11.5" font-family="'Liberation Sans',Arial,sans-serif" font-weight="bold" fill="#000" text-anchor="middle" stroke="#000" stroke-width="0.35">-</text>
<text x="349.05" y="268.6" font-size="11.5" font-family="'Liberation Sans',Arial,sans-serif" font-weight="bold" fill="#000" text-anchor="middle" stroke="#000" stroke-width="0.35">+</text>
<text x="267.1" y="206.65" font-size="11.1" font-family="'Liberation Serif','Times New Roman',serif" font-weight="bold" fill="#000" text-anchor="middle" textLength="92.9" lengthAdjust="spacingAndGlyphs" transform="rotate(-90 267.1 206.65)" >ROS (Fluorescence)</text>
<g transform="translate(313.6 168.8) skewX(-14)">
<text x="0" y="0" font-size="14" font-family="'DejaVu Sans',sans-serif" font-weight="normal" fill="#222" text-anchor="start" textLength="13.2" lengthAdjust="spacingAndGlyphs" stroke="#222" stroke-width="0.25">**</text>
</g>
<g transform="translate(336.6 164.5) skewX(-22)">
<text x="0" y="0" font-size="11.2" font-family="'Liberation Sans',Arial,sans-serif" font-weight="normal" fill="#222" text-anchor="start" textLength="5.6" lengthAdjust="spacingAndGlyphs" stroke="#222" stroke-width="0.3">#</text>
</g>
<text x="292.8" y="262.9" font-size="8.7" font-family="'Liberation Serif','Times New Roman',serif" font-weight="normal" fill="#000" text-anchor="end" textLength="17.9" lengthAdjust="spacingAndGlyphs" >myc-</text>
<text x="265.8" y="271.3" font-size="8.4" font-family="'Liberation Serif','Times New Roman',serif" font-weight="normal" fill="#000" text-anchor="start" textLength="34.9" lengthAdjust="spacingAndGlyphs" >CYP17A1</text>
<line x1="319.2" y1="275.8" x2="359.6" y2="275.8" stroke="#000" stroke-width="1.4" />
<text x="326.6" y="288.6" font-size="10" font-family="'Liberation Serif','Times New Roman',serif" font-weight="normal" fill="#000" text-anchor="start" textLength="23.0" lengthAdjust="spacingAndGlyphs" >AMA</text>
<text x="319" y="298.6" font-size="10" font-family="'Liberation Serif','Times New Roman',serif" font-weight="normal" fill="#000" text-anchor="start" textLength="38.4" lengthAdjust="spacingAndGlyphs" >(100 μM)</text>
<text x="391.4" y="37.1" font-size="14.4" font-family="'Liberation Sans',Arial,sans-serif" font-weight="bold" fill="#000" text-anchor="start" textLength="10.4" lengthAdjust="spacingAndGlyphs" stroke="#000" stroke-width="0.35">B</text>
<text x="461" y="57.2" font-size="11" font-family="'Liberation Sans',Arial,sans-serif" font-weight="normal" fill="#000" text-anchor="middle" textLength="20" lengthAdjust="spacingAndGlyphs" stroke="#000" stroke-width="0.18">Myc</text>
<line x1="435.6" y1="59.5" x2="487" y2="59.5" stroke="#000" stroke-width="1.1" />
<text x="514" y="44.6" font-size="11" font-family="'Liberation Sans',Arial,sans-serif" font-weight="normal" fill="#000" text-anchor="middle" textLength="50" lengthAdjust="spacingAndGlyphs" stroke="#000" stroke-width="0.18">Myc-DDK-</text>
<text x="513.8" y="56.8" font-size="11" font-family="'Liberation Sans',Arial,sans-serif" font-weight="normal" fill="#000" text-anchor="middle" textLength="48.4" lengthAdjust="spacingAndGlyphs" stroke="#000" stroke-width="0.18">CYP17A1</text>
<line x1="490.4" y1="59.5" x2="543" y2="59.5" stroke="#000" stroke-width="1.1" />
<text x="377.7" y="80.4" font-size="10.2" font-family="'Liberation Sans',Arial,sans-serif" font-weight="normal" fill="#000" text-anchor="start" textLength="50.4" lengthAdjust="spacingAndGlyphs" stroke="#000" stroke-width="0.18">H<tspan font-size="8" dy="2.6">2</tspan><tspan dy="-2.6">O</tspan><tspan font-size="8" dy="2.6">2</tspan><tspan dy="-2.6"> (µM)</tspan></text>
<text x="441.0" y="81.2" font-size="10.5" font-family="'Liberation Sans',Arial,sans-serif" font-weight="normal" fill="#000" text-anchor="middle" stroke="#000" stroke-width="0.18">0</text>
<text x="458.5" y="84.0" font-size="11" font-family="'Liberation Sans',Arial,sans-serif" font-weight="normal" fill="#000" text-anchor="start" transform="rotate(-90 458.5 84.0)" stroke="#000" stroke-width="0.18">50</text>
<text x="472.29999999999995" y="84.0" font-size="11" font-family="'Liberation Sans',Arial,sans-serif" font-weight="normal" fill="#000" text-anchor="start" transform="rotate(-90 472.29999999999995 84.0)" stroke="#000" stroke-width="0.18">100</text>
<text x="486.7" y="84.0" font-size="11" font-family="'Liberation Sans',Arial,sans-serif" font-weight="normal" fill="#000" text-anchor="start" transform="rotate(-90 486.7 84.0)" stroke="#000" stroke-width="0.18">150</text>
<text x="495.4" y="81.2" font-size="10.5" font-family="'Liberation Sans',Arial,sans-serif" font-weight="normal" fill="#000" text-anchor="middle" stroke="#000" stroke-width="0.18">0</text>
<text x="513.5" y="84.0" font-size="11" font-family="'Liberation Sans',Arial,sans-serif" font-weight="normal" fill="#000" text-anchor="start" transform="rotate(-90 513.5 84.0)" stroke="#000" stroke-width="0.18">50</text>
<text x="527.1999999999999" y="84.0" font-size="11" font-family="'Liberation Sans',Arial,sans-serif" font-weight="normal" fill="#000" text-anchor="start" transform="rotate(-90 527.1999999999999 84.0)" stroke="#000" stroke-width="0.18">100</text>
<text x="541.4" y="84.0" font-size="11" font-family="'Liberation Sans',Arial,sans-serif" font-weight="normal" fill="#000" text-anchor="start" transform="rotate(-90 541.4 84.0)" stroke="#000" stroke-width="0.18">150</text>
<rect x="434.2" y="84.2" width="111.2" height="19.099999999999994" fill="#ececec"/>
<rect x="435.50" y="93.80" width="10.40" height="3.60" rx="1.80" fill="#8a8a8a" filter="url(#bl3)"/>
<rect x="449.20" y="93.80" width="10.40" height="3.60" rx="1.80" fill="#707070" filter="url(#bl3)"/>
<rect x="462.80" y="93.70" width="10.80" height="3.80" rx="1.90" fill="#333333" filter="url(#bl3)"/>
<rect x="476.60" y="93.80" width="11.80" height="4.00" rx="2.00" fill="#1e1e1e" filter="url(#bl3)"/>
<rect x="490.50" y="94.70" width="10.00" height="3.00" rx="1.50" fill="#c4c4c4" filter="url(#bl3)"/>
<rect x="504.50" y="94.60" width="10.00" height="3.20" rx="1.60" fill="#b2b2b2" filter="url(#bl3)"/>
<rect x="518.40" y="94.60" width="10.00" height="3.20" rx="1.60" fill="#b8b8b8" filter="url(#bl3)"/>
<rect x="532.10" y="94.30" width="11.60" height="3.80" rx="1.90" fill="#626262" filter="url(#bl3)"/>
<rect x="435.3" y="85.3" width="109" height="16.899999999999995" fill="none" stroke="#fff" stroke-width="0.7" opacity="0.8"/>
<rect x="434.2" y="84.2" width="111.2" height="19.099999999999994" fill="none" stroke="#111" stroke-width="1.1"/>
<line x1="427.3" y1="94.8" x2="433.7" y2="94.8" stroke="#000" stroke-width="1.1" />
<text x="383.3" y="97.6" font-size="10.2" font-family="'Liberation Sans',Arial,sans-serif" font-weight="normal" fill="#000" text-anchor="start" textLength="40.7" lengthAdjust="spacingAndGlyphs" stroke="#000" stroke-width="0.18">p-IRE1α</text>
<rect x="434.2" y="106.3" width="111.2" height="26.200000000000003" fill="#eaeaea"/>
<rect x="491.00" y="120.50" width="9.00" height="1.80" rx="0.90" fill="#d8d8d8" filter="url(#bl3)"/>
<rect x="505.00" y="120.50" width="9.00" height="1.80" rx="0.90" fill="#d8d8d8" filter="url(#bl3)"/>
<rect x="533.40" y="120.50" width="9.00" height="1.80" rx="0.90" fill="#d8d8d8" filter="url(#bl3)"/>
<circle cx="476" cy="119.8" r="0.5" fill="#555"/>
<circle cx="502.5" cy="110" r="0.5" fill="#555"/>
<rect x="435.50" y="123.70" width="10.40" height="3.20" rx="1.60" fill="#a6a6a6" filter="url(#bl3)"/>
<rect x="449.20" y="123.50" width="10.40" height="3.60" rx="1.80" fill="#7c7c7c" filter="url(#bl3)"/>
<rect x="462.80" y="123.50" width="10.80" height="3.60" rx="1.80" fill="#8a8a8a" filter="url(#bl3)"/>
<rect x="476.90" y="123.40" width="11.20" height="3.80" rx="1.90" fill="#767676" filter="url(#bl3)"/>
<rect x="490.40" y="123.20" width="10.20" height="3.20" rx="1.60" fill="#a8a8a8" filter="url(#bl3)"/>
<rect x="504.40" y="123.20" width="10.20" height="3.20" rx="1.60" fill="#ababab" filter="url(#bl3)"/>
<rect x="518.40" y="123.30" width="10.00" height="3.00" rx="1.50" fill="#bbbbbb" filter="url(#bl3)"/>
<rect x="532.30" y="123.00" width="11.20" height="3.60" rx="1.80" fill="#888888" filter="url(#bl3)"/>
<rect x="435.3" y="107.39999999999999" width="109" height="24.000000000000004" fill="none" stroke="#fff" stroke-width="0.7" opacity="0.8"/>
<rect x="434.2" y="106.3" width="111.2" height="26.200000000000003" fill="none" stroke="#111" stroke-width="1.1"/>
<line x1="427.3" y1="125.5" x2="433.7" y2="125.5" stroke="#000" stroke-width="1.1" />
<text x="366.6" y="128.0" font-size="10.2" font-family="'Liberation Sans',Arial,sans-serif" font-weight="normal" fill="#000" text-anchor="start" textLength="57.4" lengthAdjust="spacingAndGlyphs" stroke="#000" stroke-width="0.18">Bip/GRP78</text>
<rect x="434.2" y="135.2" width="111.2" height="21.200000000000017" fill="#dcdcdc"/>
<rect x="435.00" y="136.0" width="11.6" height="19.600000000000016" fill="#a6a6ac" opacity="1" filter="url(#bl2)"/>
<rect x="448.70" y="136.0" width="11.6" height="19.600000000000016" fill="#a6a6ac" opacity="1" filter="url(#bl2)"/>
<rect x="462.40" y="136.0" width="11.6" height="19.600000000000016" fill="#a6a6ac" opacity="1" filter="url(#bl2)"/>
<rect x="476.70" y="136.0" width="11.6" height="19.600000000000016" fill="#a6a6ac" opacity="1" filter="url(#bl2)"/>
<rect x="490.50" y="136.0" width="11.6" height="19.600000000000016" fill="#a6a6ac" opacity="1" filter="url(#bl2)"/>
<rect x="503.80" y="136.0" width="11.6" height="19.600000000000016" fill="#a6a6ac" opacity="1" filter="url(#bl2)"/>
<rect x="517.50" y="136.0" width="11.6" height="19.600000000000016" fill="#a6a6ac" opacity="1" filter="url(#bl2)"/>
<rect x="531.50" y="136.0" width="11.6" height="19.600000000000016" fill="#a6a6ac" opacity="1" filter="url(#bl2)"/>
<rect x="435" y="152.6" width="110" height="3.2" fill="#e2e2e2" opacity="0.55" filter="url(#bl2)"/>
<rect x="435.55" y="147.00" width="10.50" height="4.80" rx="2.40" fill="#78787b" filter="url(#bl3)"/>
<rect x="449.25" y="147.00" width="10.50" height="4.80" rx="2.40" fill="#7c7c7f" filter="url(#bl3)"/>
<rect x="491.30" y="147.80" width="10.00" height="4.40" rx="2.20" fill="#909093" filter="url(#bl3)"/>
<rect x="504.35" y="147.60" width="10.50" height="4.80" rx="2.40" fill="#5e5e60" filter="url(#bl3)"/>
<rect x="518.05" y="147.60" width="10.50" height="4.80" rx="2.40" fill="#5e5e60" filter="url(#bl3)"/>
<rect x="531.70" y="147.60" width="11.00" height="4.80" rx="2.40" fill="#525254" filter="url(#bl3)"/>
<rect x="462.90" y="147.10" width="11.20" height="5.00" rx="2.50" fill="#161616" filter="url(#bl3)"/>
<rect x="476.30" y="146.60" width="12.40" height="6.00" rx="3.00" fill="#000" filter="url(#bl3)"/>
<rect x="463.40" y="147.90" width="10.20" height="3.40" rx="1.70" fill="#161616" filter="url(#bl)"/>
<rect x="476.80" y="147.40" width="11.40" height="4.40" rx="2.20" fill="#000" filter="url(#bl)"/>
<rect x="435.3" y="136.29999999999998" width="109" height="19.000000000000018" fill="none" stroke="#fff" stroke-width="0.7" opacity="0.8"/>
<rect x="434.2" y="135.2" width="111.2" height="21.200000000000017" fill="none" stroke="#111" stroke-width="1.1"/>
<line x1="427.3" y1="149.5" x2="433.7" y2="149.5" stroke="#000" stroke-width="1.1" />
<text x="392.2" y="153.2" font-size="10.2" font-family="'Liberation Sans',Arial,sans-serif" font-weight="normal" fill="#000" text-anchor="start" textLength="31.8" lengthAdjust="spacingAndGlyphs" stroke="#000" stroke-width="0.18">CHOP</text>
<rect x="434.2" y="159.4" width="111.2" height="24.099999999999994" fill="#dedede"/>
<rect x="435.00" y="160.20000000000002" width="11.6" height="22.499999999999993" fill="#acacb3" opacity="1" filter="url(#bl2)"/>
<rect x="448.70" y="160.20000000000002" width="11.6" height="22.499999999999993" fill="#acacb3" opacity="1" filter="url(#bl2)"/>
<rect x="462.40" y="160.20000000000002" width="11.6" height="22.499999999999993" fill="#acacb3" opacity="1" filter="url(#bl2)"/>
<rect x="476.70" y="160.20000000000002" width="11.6" height="22.499999999999993" fill="#acacb3" opacity="1" filter="url(#bl2)"/>
<rect x="490.50" y="160.20000000000002" width="11.6" height="22.499999999999993" fill="#acacb3" opacity="1" filter="url(#bl2)"/>
<rect x="503.80" y="160.20000000000002" width="11.6" height="22.499999999999993" fill="#acacb3" opacity="1" filter="url(#bl2)"/>
<rect x="517.50" y="160.20000000000002" width="11.6" height="22.499999999999993" fill="#acacb3" opacity="1" filter="url(#bl2)"/>
<rect x="531.50" y="160.20000000000002" width="11.6" height="22.499999999999993" fill="#acacb3" opacity="1" filter="url(#bl2)"/>
<rect x="435" y="180" width="110" height="3" fill="#e0e0e0" opacity="0.5" filter="url(#bl2)"/>
<rect x="435.55" y="164.70" width="10.50" height="4.20" rx="2.10" fill="#69696c" filter="url(#bl3)"/>
<rect x="449.25" y="164.70" width="10.50" height="4.20" rx="2.10" fill="#6c6c6f" filter="url(#bl3)"/>
<rect x="463.10" y="165.50" width="10.80" height="4.60" rx="2.30" fill="#38383a" filter="url(#bl3)"/>
<rect x="476.90" y="165.50" width="11.20" height="4.60" rx="2.30" fill="#2e2e30" filter="url(#bl3)"/>
<rect x="491.00" y="166.40" width="10.00" height="4.00" rx="2.00" fill="#8a8a8c" filter="url(#bl3)"/>
<rect x="504.60" y="166.20" width="10.20" height="4.00" rx="2.00" fill="#6e6e70" filter="url(#bl3)"/>
<rect x="518.50" y="166.40" width="10.00" height="4.00" rx="2.00" fill="#7e7e80" filter="url(#bl3)"/>
<rect x="532.20" y="166.40" width="10.00" height="4.00" rx="2.00" fill="#8a8a8c" filter="url(#bl3)"/>
<rect x="463.0" y="171" width="11" height="10" fill="#a0a0a8" opacity="0.45" filter="url(#bl2)"/>
<rect x="477.0" y="171" width="11" height="10" fill="#a0a0a8" opacity="0.45" filter="url(#bl2)"/>
<rect x="435.3" y="160.5" width="109" height="21.899999999999995" fill="none" stroke="#fff" stroke-width="0.7" opacity="0.8"/>
<rect x="434.2" y="159.4" width="111.2" height="24.099999999999994" fill="none" stroke="#111" stroke-width="1.1"/>
<line x1="427.3" y1="165.8" x2="433.7" y2="165.8" stroke="#000" stroke-width="1.1" />
<text x="384.5" y="168.3" font-size="10.2" font-family="'Liberation Sans',Arial,sans-serif" font-weight="normal" fill="#000" text-anchor="start" textLength="39.5" lengthAdjust="spacingAndGlyphs" stroke="#000" stroke-width="0.18">p-PERK</text>
<rect x="434.2" y="187.4" width="111.2" height="18.900000000000006" fill="#ececec"/>
<rect x="450.00" y="203.00" width="9.00" height="1.60" rx="0.80" fill="#d6d6d6" filter="url(#bl3)"/>
<rect x="464.00" y="203.00" width="9.00" height="1.60" rx="0.80" fill="#d6d6d6" filter="url(#bl3)"/>
<rect x="477.70" y="203.00" width="9.00" height="1.60" rx="0.80" fill="#d6d6d6" filter="url(#bl3)"/>
<rect x="435.30" y="194.70" width="10.80" height="3.00" rx="1.50" fill="#1c1c1c" filter="url(#bl)"/>
<rect x="449.20" y="194.70" width="10.60" height="3.00" rx="1.50" fill="#1c1c1c" filter="url(#bl)"/>
<rect x="462.90" y="194.65" width="11.20" height="3.10" rx="1.55" fill="#161616" filter="url(#bl)"/>
<rect x="476.30" y="194.45" width="11.80" height="3.50" rx="1.75" fill="#0c0c0c" filter="url(#bl)"/>
<rect x="490.30" y="194.65" width="10.40" height="2.50" rx="1.25" fill="#2c2c2c" filter="url(#bl)"/>
<rect x="504.30" y="194.65" width="10.40" height="2.50" rx="1.25" fill="#363636" filter="url(#bl)"/>
<rect x="517.90" y="194.50" width="11.20" height="2.80" rx="1.40" fill="#1e1e1e" filter="url(#bl)"/>
<rect x="531.00" y="194.40" width="12.00" height="3.00" rx="1.50" fill="#111" filter="url(#bl)"/>
<rect x="435.3" y="188.5" width="109" height="16.700000000000006" fill="none" stroke="#fff" stroke-width="0.7" opacity="0.8"/>
<rect x="434.2" y="187.4" width="111.2" height="18.900000000000006" fill="none" stroke="#111" stroke-width="1.1"/>
<line x1="427.3" y1="197.0" x2="433.7" y2="197.0" stroke="#000" stroke-width="1.1" />
<text x="385.8" y="201.0" font-size="10.2" font-family="'Liberation Sans',Arial,sans-serif" font-weight="normal" fill="#000" text-anchor="start" textLength="38.2" lengthAdjust="spacingAndGlyphs" stroke="#000" stroke-width="0.18">p-eIF2α</text>
<rect x="434.2" y="209.4" width="111.2" height="19.099999999999994" fill="#e9e9e9"/>
<rect x="435.30" y="219.90" width="11.80" height="4.20" rx="2.10" fill="#000" filter="url(#bl3)"/>
<rect x="448.40" y="218.90" width="13.20" height="4.60" rx="2.30" fill="#000" filter="url(#bl3)"/>
<rect x="462.90" y="218.40" width="12.20" height="4.40" rx="2.20" fill="#000" filter="url(#bl3)"/>
<rect x="476.90" y="218.20" width="12.20" height="4.40" rx="2.20" fill="#000" filter="url(#bl3)"/>
<rect x="490.30" y="217.70" width="11.80" height="4.40" rx="2.20" fill="#000" filter="url(#bl3)"/>
<rect x="503.90" y="217.60" width="12.20" height="4.60" rx="2.30" fill="#000" filter="url(#bl3)"/>
<rect x="517.90" y="217.70" width="11.80" height="4.40" rx="2.20" fill="#000" filter="url(#bl3)"/>
<rect x="531.30" y="217.00" width="11.80" height="4.40" rx="2.20" fill="#000" filter="url(#bl3)"/>
<rect x="435.3" y="210.5" width="109" height="16.899999999999995" fill="none" stroke="#fff" stroke-width="0.7" opacity="0.8"/>
<rect x="434.2" y="209.4" width="111.2" height="19.099999999999994" fill="none" stroke="#111" stroke-width="1.1"/>
<line x1="427.3" y1="221.6" x2="433.7" y2="221.6" stroke="#000" stroke-width="1.1" />
<text x="395.3" y="224.6" font-size="10.2" font-family="'Liberation Sans',Arial,sans-serif" font-weight="normal" fill="#000" text-anchor="start" textLength="28.7" lengthAdjust="spacingAndGlyphs" stroke="#000" stroke-width="0.18">eIF2α</text>
<rect x="434.2" y="231.4" width="111.2" height="26.49999999999997" fill="#e9e9e9"/>
<rect x="436.90" y="243.50" width="12.20" height="4.80" rx="2.40" fill="#000" filter="url(#bl3)"/>
<rect x="450.90" y="243.90" width="12.20" height="4.00" rx="2.00" fill="#000" filter="url(#bl3)"/>
<rect x="464.90" y="244.10" width="11.80" height="3.60" rx="1.80" fill="#000" filter="url(#bl3)"/>
<rect x="477.90" y="243.70" width="12.20" height="4.40" rx="2.20" fill="#000" filter="url(#bl3)"/>
<rect x="492.90" y="244.40" width="11.20" height="3.40" rx="1.70" fill="#000" filter="url(#bl3)"/>
<rect x="505.90" y="243.40" width="12.20" height="4.80" rx="2.40" fill="#000" filter="url(#bl3)"/>
<rect x="519.90" y="243.20" width="11.20" height="4.00" rx="2.00" fill="#000" filter="url(#bl3)"/>
<rect x="533.40" y="242.90" width="11.80" height="3.80" rx="1.90" fill="#000" filter="url(#bl3)"/>
<rect x="435.3" y="232.5" width="109" height="24.299999999999972" fill="none" stroke="#fff" stroke-width="0.7" opacity="0.8"/>
<rect x="434.2" y="231.4" width="111.2" height="26.49999999999997" fill="none" stroke="#111" stroke-width="1.1"/>
<line x1="427.3" y1="246.0" x2="433.7" y2="246.0" stroke="#000" stroke-width="1.1" />
<text x="381.5" y="249.0" font-size="10.2" font-family="'Liberation Sans',Arial,sans-serif" font-weight="normal" fill="#000" text-anchor="start" textLength="42.5" lengthAdjust="spacingAndGlyphs" stroke="#000" stroke-width="0.18">αTubulin</text>
</svg></body></html>
